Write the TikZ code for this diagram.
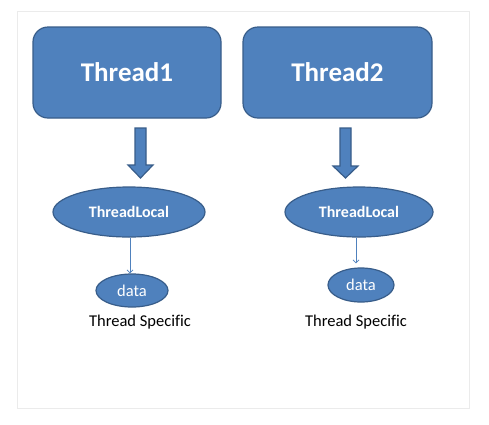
\documentclass[tikz,border=0pt]{standalone}
\usepackage{fontspec}
\setmainfont{Carlito}[Ligatures=NoCommon]
\usetikzlibrary{arrows.meta,shapes.geometric,calc}
\definecolor{obfill}{HTML}{4F81BD}
\definecolor{obline}{HTML}{385D8A}
\definecolor{frame}{HTML}{EBEBEB}
\tikzset{
  threadbox/.style={draw=obline, fill=obfill, line width=1.2pt, rounded corners=15pt,
    minimum width=188pt, minimum height=91pt, inner sep=0pt, text=white,
    font=\fontsize{27}{30}\selectfont\bfseries},
  tlell/.style={ellipse, draw=obline, fill=obfill, line width=1.2pt, inner sep=0pt,
    text=white, font=\fontsize{16}{18}\selectfont\bfseries},
  dataell/.style={ellipse, draw=obline, fill=obfill, line width=1.2pt, inner sep=0pt,
    text=white, font=\fontsize{16.5}{19}\selectfont},
  blockarrow/.style={draw=obline, fill=obfill, line width=1.2pt, line join=miter},
  thinarrow/.style={draw=obfill, line width=0.8pt, -{Straight Barb[length=3pt,width=6pt]}},
  caption/.style={inner sep=0pt, font=\fontsize{16.5}{19}\selectfont},
}
\begin{document}
\begin{tikzpicture}[x=1pt,y=-1pt]
\useasboundingbox (0,0) rectangle (489,424);
\fill[white] (0,0) rectangle (489,424);
\draw[frame, line width=1pt] (17,11) rectangle (469,408);

\node[threadbox] (t1) at (127,72.5) {Thread1};
\node[threadbox, minimum width=189pt] (t2) at (337.5,72.5) {Thread2};

\node[tlell, minimum width=152pt, minimum height=50pt] (tl1) at (129,212) {ThreadLocal};
\node[tlell, minimum width=148pt, minimum height=50pt] (tl2) at (359,212) {ThreadLocal};

\node[dataell, minimum width=72pt, minimum height=33pt] (d1) at (132,290.5) {data};
\node[dataell, minimum width=66pt, minimum height=34pt] (d2) at (361,285) {data};

\node[caption] (c1) at (140,322) {Thread Specific};
\node[caption] (c2) at (356,322) {Thread Specific};

% block arrows
\draw[blockarrow] (135,128) -- (146,128) -- (146,165) -- (153,165) -- (140.5,178)
  -- (128,165) -- (135,165) -- cycle;
\draw[blockarrow] (340,128) -- (351,128) -- (351,166) -- (358,166) -- (345.5,178)
  -- (333,166) -- (340,166) -- cycle;

% thin arrows
\coordinate (a1) at (130,237);
\coordinate (a2) at (356,237);
\draw[thinarrow] (tl1.south -| a1) -- (d1.north -| a1);
\draw[thinarrow] (tl2.south -| a2) -- ($(d2.north -| a2)+(0,-4)$);
\end{tikzpicture}
\end{document}
